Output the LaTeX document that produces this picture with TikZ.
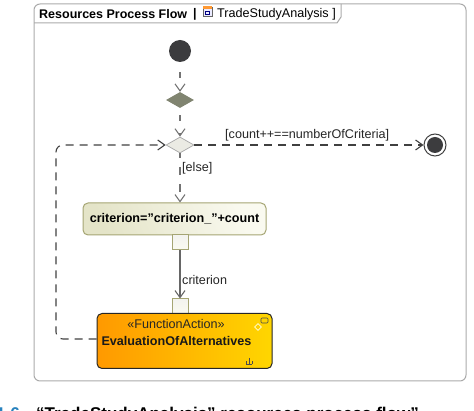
\documentclass[tikz,border=0pt]{standalone}
\usepackage{fontspec}
\setmainfont{Liberation Sans}
\usepackage{tikz}
\usetikzlibrary{arrows.meta,shapes.geometric,positioning,calc}
\definecolor{FrameGray}{RGB}{170,170,170}
\definecolor{NodeDark}{RGB}{60,60,62}
\definecolor{OliveDark}{RGB}{128,132,112}
\definecolor{PaleGray}{RGB}{235,235,228}
\definecolor{ActionEdge}{RGB}{165,165,115}
\definecolor{ActionLight}{RGB}{250,250,240}
\definecolor{ActionDark}{RGB}{228,228,200}
\definecolor{FuncLeft}{RGB}{255,153,0}
\definecolor{FuncRight}{RGB}{255,214,0}
\definecolor{CapBlue}{RGB}{40,130,190}
\tikzset{
  tip/.style={-{Straight Barb[length=7pt,width=10pt]},draw=black!75,line width=1.1pt},
  flow/.style={tip,dash pattern=on 8pt off 6pt},
  flowv/.style={tip,draw=black!55},
  decide/.style={diamond,aspect=1.75,inner sep=0pt,minimum width=28pt,minimum height=16pt},
  actbox/.style={draw=ActionEdge,line width=1pt,rounded corners=5pt,left color=ActionDark,right color=ActionLight,
    shading angle=115,font=\bfseries\fontsize{12.6}{14}\selectfont},
  pinbox/.style={draw=ActionEdge,line width=1pt,minimum width=16pt,minimum height=15pt,inner sep=0pt,
    top color=PaleGray!60,bottom color=ActionLight},
  lbl/.style={font=\fontsize{12.6}{14}\selectfont,text=black!85,inner sep=1pt},
}
\begin{document}
\begin{tikzpicture}[x=1pt,y=-1pt]
  \useasboundingbox (0,0) rectangle (474,411);
  % frame and its tab
  \draw[FrameGray,line width=1pt,rounded corners=6pt] (34,4) rectangle (466,381);
  \draw[FrameGray,line width=1pt] (34,23) -- (337,23) -- (341,17) -- (341,4);
  \node[anchor=west,inner sep=0pt,font=\bfseries\fontsize{12.5}{14}\selectfont] (title) at (39,14) {Resources Process Flow};
  \node[anchor=west,inner sep=0pt,font=\fontsize{12.6}{14}\selectfont] (titleb) at (217,14) {TradeStudyAnalysis ]};
  \node[anchor=west,inner sep=0pt,font=\bfseries\fontsize{12.5}{14}\selectfont] (bar) at (193,14) {|};
  % icon in the tab
  \draw[black!60,fill=blue!8,line width=0.5pt] (203,7) rectangle (212,16);
  \fill[orange!80] (203,6) rectangle (212,9);
  \draw[blue!50!black,line width=0.6pt] (205.5,11) rectangle (209.5,14.5);

  % flow nodes
  \node[circle,fill=NodeDark,minimum size=22pt,inner sep=0pt] (start) at (180,51) {};
  \node[decide,fill=OliveDark] (merge) at (180,100) {};
  \node[decide,draw=black!35,fill=PaleGray,line width=0.7pt] (check) at (180,145) {};
  \node[circle,draw=black!75,fill=white,line width=1pt,minimum size=22pt,inner sep=0pt] (stop) at (435,145) {};
  \node[circle,fill=NodeDark,minimum size=16pt,inner sep=0pt] (stopin) at (stop) {};
  \node[actbox,minimum width=183pt,minimum height=32pt,inner sep=0pt] (assign) at (174.5,219) {criterion="criterion\_"+count};
  \node[pinbox] (pinout) at (180,242.5) {};
  \node[pinbox] (pinin) at (180,306.5) {};
  \node[draw=black!85,line width=1pt,rounded corners=5pt,left color=FuncLeft,right color=FuncRight,
    minimum width=175pt,minimum height=55pt,inner sep=0pt] (eval) at (184.5,341) {};
  \node[font=\fontsize{12.6}{14}\selectfont,inner sep=0pt,text=black!85] (stereo) at (176,324) {«FunctionAction»};
  \node[font=\bfseries\fontsize{12.6}{14}\selectfont,inner sep=0pt,text=black!90] (evalname) at (176.5,341) {EvaluationOfAlternatives};

  % small marks in the action
  \draw[black!70,line width=0.6pt,rounded corners=1pt] (261,318) rectangle (268,323);
  \node[diamond,draw=white!85!yellow,line width=0.7pt,inner sep=1.8pt] (mark) at (258,327) {};
  \draw[black!70,line width=0.6pt] (249,358) -- (249,364) (246,364) -- (252,364) (246,364) -- (246,361) (252,364) -- (252,361);

  % connectors
  \draw[flowv,dash pattern=on 6pt off 12pt,dash phase=8pt] (start) -- (merge);
  \draw[flowv,dash pattern=on 6pt off 12pt,dash phase=11pt] (merge) -- (check);
  \draw[flowv,dash pattern=on 8pt off 9pt,dash phase=3pt] (check) -- (assign.north-|check);
  \draw[flow] (check) -- (stop);
  \draw[tip,draw=black!60] (pinout) -- (pinin);
  \coordinate (loopa) at (56,339);
  \coordinate (loopb) at (56,145);
  \draw[flow,rounded corners=7pt] (eval.west|-loopa) -- (loopa) -- (loopb) -- (check.west);

  % labels
  \node[lbl,anchor=west] (guarda) at (224,135) {[count++==numberOfCriteria]};
  \node[lbl,anchor=west] (guardb) at (181,168) {[else]};
  \node[lbl,anchor=west] (pinname) at (181,280) {criterion};

  % caption, cut by the page edge
  \node[anchor=base west,inner sep=0pt,font=\bfseries\fontsize{17}{19}\selectfont] (cap) at (36,419.5) {“TradeStudyAnalysis” resources process flow”};
  \node[anchor=base east,inner sep=0pt,font=\bfseries\fontsize{17}{19}\selectfont,text=CapBlue] (capnum) at (20,419.5) {1.6};
\end{tikzpicture}
\end{document}
